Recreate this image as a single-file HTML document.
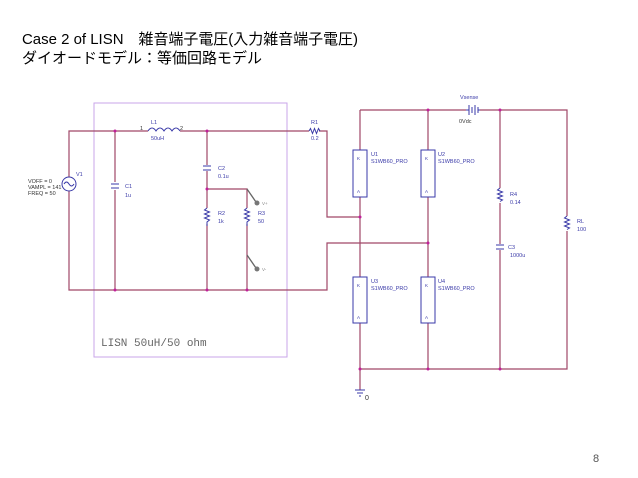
<!DOCTYPE html>
<html><head><meta charset="utf-8"><style>
html,body{margin:0;padding:0;background:#fff;}
svg{display:block;}
.t{font-family:"Liberation Sans","Noto Sans CJK JP",sans-serif;}
</style></head><body>
<svg width="638" height="478" viewBox="0 0 638 478" xmlns="http://www.w3.org/2000/svg">
<text class="t" x="22" y="44" font-size="15" fill="#000" textLength="336" lengthAdjust="spacingAndGlyphs">Case 2 of LISN　雑音端子電圧(入力雑音端子電圧)</text>
<text class="t" x="22" y="63" font-size="15" fill="#000">ダイオードモデル：等価回路モデル</text>
<text class="t" x="593" y="462" font-size="11" fill="#555">8</text>

<rect x="94" y="103" width="193" height="254" fill="none" stroke="#c9a6ea" stroke-width="1"/>
<text x="101" y="346" font-family="Liberation Mono,monospace" font-size="11" fill="#666">LISN 50uH/50 ohm</text>

<g stroke="#a04868" stroke-width="1.2" fill="none">
<path d="M69 177 V131 H148 M180 131 H309 M319 131 H327 V217 H360"/>
<path d="M69 191 V290 H327 V243 H428"/>
<path d="M115 131 V182 M115 190 V290"/>
<path d="M207 131 V165 M207 171 V208 M207 224 V290"/>
<path d="M207 189 H247 V208 M247 224 V290"/>
<path d="M360 110 H466 M480 110 H567 V216 M567 231 V369 H360"/>
<path d="M360 110 V150 M360 197 V277 M360 323 V390"/>
<path d="M428 110 V150 M428 197 V277 M428 323 V369"/>
<path d="M500 110 V188 M500 203 V244 M500 250 V369"/>
</g>
<g stroke="#666" stroke-width="1.3">
<line x1="247" y1="189" x2="256" y2="202"/>
<line x1="247" y1="255" x2="256" y2="268"/>
</g>
<circle cx="257" cy="203" r="2.5" fill="#777"/>
<circle cx="257" cy="269" r="2.5" fill="#777"/>
<text x="262" y="205" font-family="Liberation Sans" font-size="4.5" fill="#888">V+</text>
<text x="262" y="271" font-family="Liberation Sans" font-size="4.5" fill="#888">V-</text>

<g stroke="#3a3aa8" stroke-width="1" fill="none">
<circle cx="69" cy="184" r="7"/>
<path d="M64 184 q2.5 -4 5 0 t5 0"/>
<path d="M148 131 q4 -6 8 0 q4 -6 8 0 q4 -6 8 0 q4 -6 8 0"/>
<path d="M309 131 l1.5 -2.5 l2 5 l2 -5 l2 5 l2 -5 l1.5 2.5"/>
<path d="M111 184 h8 M111 188 h8"/>
<path d="M203 166 h8 M203 170 h8"/>
<path d="M207 208 l-2.5 2 l5 2 l-5 2 l5 2 l-5 2 l5 2 l-2.5 2 v4"/>
<path d="M247 208 l-2.5 2 l5 2 l-5 2 l5 2 l-5 2 l5 2 l-2.5 2 v4"/>
<path d="M500 188 l-2.5 2 l5 2 l-5 2 l5 2 l-5 2 l5 2 l-2.5 1.5"/>
<path d="M567 216 l-2.5 2 l5 2 l-5 2 l5 2 l-5 2 l5 2 l-2.5 1.5"/>
<path d="M496 245 h8 M496 249 h8"/>
<path d="M466 110 h3 M469 105 v10 M472 107 v6 M475 105 v10 M478 107 v6 M478 110 h2"/>
<rect x="353" y="150" width="14" height="47"/>
<rect x="421" y="150" width="14" height="47"/>
<rect x="353" y="277" width="14" height="46"/>
<rect x="421" y="277" width="14" height="46"/>
<path d="M355 390 h10 M357 393 h6 M359 396 h2"/>
</g>
<g fill="#3a3aa8" font-family="Liberation Sans" font-size="5.5">
<text x="76" y="176">V1</text>
<text x="28" y="183" fill="#333">VOFF = 0</text>
<text x="28" y="189" fill="#333">VAMPL = 141</text>
<text x="28" y="195" fill="#333">FREQ = 50</text>
<text x="151" y="124">L1</text><text x="140" y="130" fill="#333">1</text><text x="180" y="130" fill="#333">2</text>
<text x="151" y="140">50uH</text>
<text x="311" y="124">R1</text><text x="311" y="140">0.2</text>
<text x="125" y="188">C1</text><text x="125" y="197">1u</text>
<text x="218" y="170">C2</text><text x="218" y="178">0.1u</text>
<text x="218" y="215">R2</text><text x="218" y="223">1k</text>
<text x="258" y="215">R3</text><text x="258" y="223">50</text>
<text x="460" y="99">Vsense</text><text x="459" y="123" fill="#333">0Vdc</text>
<text x="371" y="156">U1</text><text x="371" y="163">S1WB60_PRO</text>
<text x="438" y="156">U2</text><text x="438" y="163">S1WB60_PRO</text>
<text x="371" y="283">U3</text><text x="371" y="290">S1WB60_PRO</text>
<text x="438" y="283">U4</text><text x="438" y="290">S1WB60_PRO</text>
<text x="510" y="196">R4</text><text x="510" y="204">0.14</text>
<text x="508" y="249">C3</text><text x="510" y="257">1000u</text>
<text x="577" y="223">RL</text><text x="577" y="231">100</text>
<text x="365" y="400" fill="#333" font-size="7">0</text>
</g>
<g fill="#3a3aa8" font-family="Liberation Sans" font-size="4.5">
<text x="357" y="160">K</text><text x="357" y="193">A</text>
<text x="425" y="160">K</text><text x="425" y="193">A</text>
<text x="357" y="287">K</text><text x="357" y="319">A</text>
<text x="425" y="287">K</text><text x="425" y="319">A</text>
</g>
<g fill="#c0209a">
<circle cx="115" cy="131" r="1.5"/><circle cx="207" cy="131" r="1.5"/>
<circle cx="207" cy="189" r="1.5"/><circle cx="115" cy="290" r="1.5"/>
<circle cx="207" cy="290" r="1.5"/><circle cx="247" cy="290" r="1.5"/>
<circle cx="428" cy="110" r="1.5"/><circle cx="500" cy="110" r="1.5"/>
<circle cx="360" cy="217" r="1.5"/><circle cx="428" cy="243" r="1.5"/>
<circle cx="360" cy="369" r="1.5"/><circle cx="428" cy="369" r="1.5"/>
<circle cx="500" cy="369" r="1.5"/>
</g>
</svg>
</body></html>
